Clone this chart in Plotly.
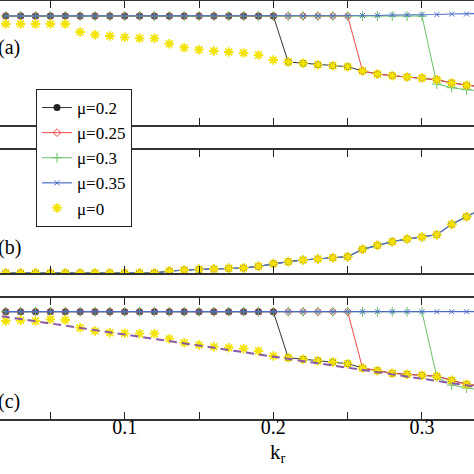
import plotly.graph_objects as go
from plotly.subplots import make_subplots

# wavenumbers k_r, 0.02 .. 0.34
k = [round(0.02 + 0.01 * i, 2) for i in range(33)]

# panel (a)
upper_a = 1.09
lower_a = [0.63, 0.617, 0.603, 0.593, 0.583, 0.54, 0.51, 0.493, 0.48, 0.47,
           0.453, 0.42, 0.397, 0.38]            # k = 0.21 .. 0.34
green_low_a = [0.41, 0.373, 0.353, 0.34]         # k = 0.31 .. 0.34
blue_a_tail = [1.095, 1.095, 1.10, 1.10, 1.105, 1.105, 1.11, 1.11, 1.115]  # k = 0.26 .. 0.34
mu0_a_head = [1.01, 1.01, 1.01, 1.01, 1.01, 0.93, 0.903, 0.89, 0.877, 0.867,
              0.867, 0.813, 0.773, 0.753, 0.74, 0.73, 0.72, 0.70, 0.65]  # k = 0.02 .. 0.20

# panel (b): all curves coincide
curve_b = [0, 0, 0, 0, 0, 0, 0, 0, 0, 0, 0, 0.02, 0.03, 0.037, 0.04, 0.047,
           0.05, 0.067, 0.093, 0.113, 0.13, 0.14, 0.153, 0.163, 0.237, 0.277,
           0.313, 0.34, 0.36, 0.383, 0.487, 0.563, 0.64]

# panel (c)
upper_c = 1.073
lower_c = [0.613, 0.597, 0.583, 0.57, 0.553, 0.51, 0.483, 0.457, 0.447, 0.437,
           0.427, 0.387, 0.347, 0.33]
green_low_c = [0.42, 0.34, 0.31, 0.29]
mu0_c_head = [0.98, 0.987, 0.98, 0.997, 0.99, 0.913, 0.88, 0.863, 0.857, 0.853,
              0.853, 0.803, 0.763, 0.74, 0.723, 0.713, 0.703, 0.68, 0.63]
theory_k = [0.0, 0.1, 0.2, 0.3, 0.35]
theory_c = [1.066, 0.845, 0.624, 0.403, 0.292]

tick_vals = [0.05, 0.1, 0.15, 0.2, 0.25, 0.3]
tick_text = ['', '0.1', '', '0.2', '', '0.3']

SERIF = 'Liberation Serif'


def branch(jump_k, upper, lower):
    # upper value up to jump_k, then lower branch (which starts at 0.21)
    out = []
    for i, kk in enumerate(k):
        if kk <= jump_k + 1e-9:
            out.append(upper)
        else:
            out.append(lower[i - 19])
    return out


def series_for(upper, lower, green_low, blue_tail, mu0_head):
    black = branch(0.20, upper, lower)
    red = branch(0.25, upper, lower)
    green = [upper] * 29 + green_low
    if blue_tail:
        blue = [upper] * 24 + blue_tail
    else:
        blue = [upper] * 33
    mu0 = mu0_head + lower
    return black, red, green, blue, mu0


panels = [
    series_for(upper_a, lower_a, green_low_a, blue_a_tail, mu0_a_head),
    (curve_b,) * 5,
    series_for(upper_c, lower_c, green_low_c, None, mu0_c_head),
]

names = ['μ=0.2', 'μ=0.25', 'μ=0.3', 'μ=0.35', 'μ=0']
styles = [
    dict(mode='lines+markers', line=dict(color='#333333', width=1),
         marker=dict(symbol='circle', size=7, color='#222222')),
    dict(mode='lines+markers', line=dict(color='#f04848', width=1),
         marker=dict(symbol='diamond-open', size=6, color='#f04848', line=dict(width=1))),
    dict(mode='lines+markers', line=dict(color='#66c266', width=1),
         marker=dict(symbol='cross-thin-open', size=7, color='#66c266', line=dict(width=1))),
    dict(mode='lines+markers', line=dict(color='#4c6ec8', width=1.2),
         marker=dict(symbol='x-thin-open', size=5, color='#4c6ec8', line=dict(width=1))),
    dict(mode='markers',
         marker=dict(symbol='asterisk-open', size=8, color='#f2e400', line=dict(width=1.8))),
]

fig = make_subplots(rows=3, cols=1, shared_xaxes=True)

for row, data in enumerate(panels, start=1):
    for name, y, st in zip(names, data, styles):
        fig.add_trace(go.Scatter(x=k, y=y, name=name, legendgroup=name,
                                 showlegend=(row == 1), **st), row=row, col=1)
    if row == 3:
        fig.add_trace(go.Scatter(x=theory_k, y=theory_c, mode='lines', showlegend=False,
                                 line=dict(color='#8a5aa8', width=2, dash='8px,5px')),
                      row=3, col=1)

H = 418.0
domains = [(1 - 124 / H, 1.0), ((H - 272) / H, (H - 149) / H), (0.0, (H - 297) / H)]
yranges = [[0, 1.24], [0, 1.23], [0, 1.21]]

for i in range(3):
    fig.update_yaxes(domain=domains[i], range=yranges[i], visible=False, row=i + 1, col=1)
    fig.update_xaxes(range=[0.0161, 0.335], tickvals=tick_vals, ticktext=tick_text,
                     ticks='inside', ticklen=7, tickcolor='#222', tickwidth=1.2,
                     showline=True, linecolor='#333', linewidth=1.5, mirror='ticks',
                     showgrid=False, zeroline=False, showticklabels=(i == 2),
                     ticklabelstandoff=-11,
                     tickfont=dict(family=SERIF, size=20, color='black'),
                     row=i + 1, col=1)

labels = [('(a)', 46), ('(b)', 247), ('(c)', 400)]
for txt, ypx in labels:
    fig.add_annotation(text=txt, xref='paper', yref='paper', x=0, xshift=-4,
                       xanchor='left', y=(H - ypx) / H, yanchor='middle',
                       showarrow=False,
                       font=dict(family=SERIF, size=20, color='black'))

fig.add_annotation(text='k<sub>r</sub>', xref='x3', yref='paper', x=0.203,
                   y=(H - 452) / H, yanchor='middle', showarrow=False,
                   font=dict(family=SERIF, size=21, color='black'))

fig.update_layout(
    width=474, height=474,
    margin=dict(l=0, r=0, t=1, b=55),
    plot_bgcolor='white', paper_bgcolor='white',
    showlegend=True,
    legend=dict(x=36 / 474, xanchor='left', y=(H - 88) / H, yanchor='top',
                bgcolor='white', bordercolor='#222', borderwidth=1,
                font=dict(family=SERIF, size=17, color='black'),
                tracegroupgap=0),
)

# drop the default 8px page margin so the figure sits at the window corner
fig.write_html("out.html", config={'displayModeBar': False},
               post_script="document.body.style.margin='0';")
